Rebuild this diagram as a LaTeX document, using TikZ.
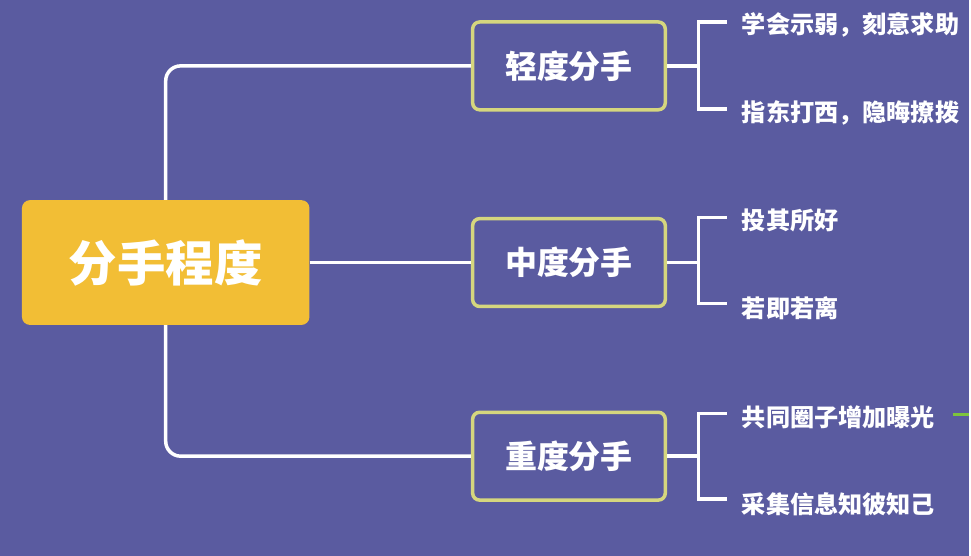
\documentclass[tikz,border=0pt]{standalone}
\usepackage{fontspec}
\setmainfont{Noto Sans CJK SC}
\usetikzlibrary{positioning}
\definecolor{bgpurple}{HTML}{5A5BA0}
\definecolor{rootyellow}{HTML}{F2BE35}
\definecolor{boxline}{HTML}{D5D67E}
\definecolor{tipgreen}{HTML}{7DC43C}

\begin{document}
\begin{tikzpicture}[x=1pt,y=-1pt,
  root/.style={fill=rootyellow,rounded corners=8pt,minimum width=288pt,minimum height=125pt,text=white,font=\fontsize{48.5}{52}\selectfont\bfseries},
  lvl/.style={draw=boxline,line width=3.5pt,fill=bgpurple,rounded corners=7pt,minimum width=193pt,minimum height=88pt,text=white,font=\fontsize{32}{36}\selectfont\bfseries},
  leaf/.style={anchor=west,inner sep=0pt,text=white,font=\fontsize{24.2}{26}\selectfont\bfseries},
  link/.style={white,line width=3.5pt},
  brk/.style={white,line width=3.5pt}]
\fill[bgpurple] (0,0) rectangle (971,557);
% root and the three levels
\node[root] (root) at (166,263) {分手程度};
\node[lvl] (light) at (570,66) {轻度分手};
\node[lvl] (mid) at (570,263) {中度分手};
\node[lvl] (heavy) at (570,457) {重度分手};
\draw[link,rounded corners=15pt] (root.north) |- (light.west);
\draw[link] (root.east) -- (mid.west);
\draw[link,rounded corners=15pt] (root.south) |- (heavy.west);
% leaves
\node[leaf] (a1) at (743,25) {学会示弱，刻意求助};
\node[leaf] (a2) at (743,113) {指东打西，隐晦撩拨};
\node[leaf] (b1) at (743,221) {投其所好};
\node[leaf] (b2) at (743,309) {若即若离};
\node[leaf] (c1) at (743,418) {共同圈子增加曝光};
\node[leaf] (c2) at (743,505) {采集信息知彼知己};
% brackets
\draw[brk] (light.east) -- ++(32,0);
\draw[brk] ([shift={(-15pt,3pt)}]a1.west) -| ([shift={(-43pt,4pt)}]a2.west) -- ([shift={(-15pt,4pt)}]a2.west);
\draw[brk] (mid.east) -- ++(32,0);
\draw[brk] ([shift={(-15pt,3pt)}]b1.west) -| ([shift={(-43pt,5pt)}]b2.west) -- ([shift={(-15pt,5pt)}]b2.west);
\draw[brk] (heavy.east) -- ++(32,0);
\draw[brk] ([shift={(-15pt,4pt)}]c1.west) -| ([shift={(-43pt,5pt)}]c2.west) -- ([shift={(-15pt,5pt)}]c2.west);
\coordinate (cut) at (971,415);
\draw[tipgreen,line width=3.5pt] ([xshift=18pt]c1.east |- cut) -- (cut);
\end{tikzpicture}
\end{document}
